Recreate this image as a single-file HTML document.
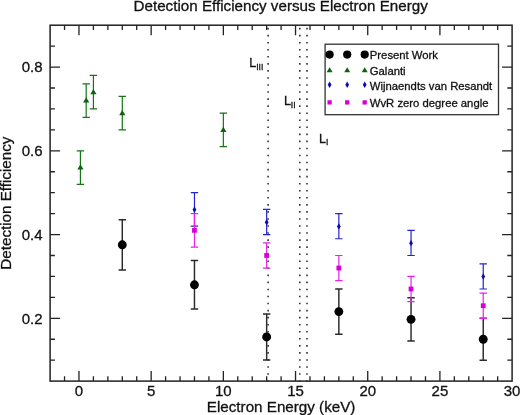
<!DOCTYPE html>
<html><head><meta charset="utf-8"><title>Detection Efficiency versus Electron Energy</title>
<style>
html,body{margin:0;padding:0;background:#fff;}
body{width:520px;height:415px;overflow:hidden;}
svg{display:block;font-family:"Liberation Sans", Arial, Helvetica, sans-serif;fill:#000;}
text{fill:#111;stroke:#111;stroke-width:0.3px;}
</style></head><body>
<svg width="520" height="415" viewBox="0 0 520 415">
<rect width="520" height="415" fill="#fff"/>
<rect x="50.1" y="25.2" width="462" height="355.9" fill="none" stroke="#222" stroke-width="1.5"/>
<path d="M64.54 381.1V376.3M64.54 25.2V30M78.97 381.1V371.1M78.97 25.2V35.2M93.41 381.1V376.3M93.41 25.2V30M107.85 381.1V376.3M107.85 25.2V30M122.29 381.1V376.3M122.29 25.2V30M136.72 381.1V376.3M136.72 25.2V30M151.16 381.1V371.1M151.16 25.2V35.2M165.6 381.1V376.3M165.6 25.2V30M180.04 381.1V376.3M180.04 25.2V30M194.47 381.1V376.3M194.47 25.2V30M208.91 381.1V376.3M208.91 25.2V30M223.35 381.1V371.1M223.35 25.2V35.2M237.79 381.1V376.3M237.79 25.2V30M252.22 381.1V376.3M252.22 25.2V30M266.66 381.1V376.3M266.66 25.2V30M281.1 381.1V376.3M281.1 25.2V30M295.54 381.1V371.1M295.54 25.2V35.2M309.98 381.1V376.3M309.98 25.2V30M324.41 381.1V376.3M324.41 25.2V30M338.85 381.1V376.3M338.85 25.2V30M353.29 381.1V376.3M353.29 25.2V30M367.73 381.1V371.1M367.73 25.2V35.2M382.16 381.1V376.3M382.16 25.2V30M396.6 381.1V376.3M396.6 25.2V30M411.04 381.1V376.3M411.04 25.2V30M425.48 381.1V376.3M425.48 25.2V30M439.91 381.1V371.1M439.91 25.2V35.2M454.35 381.1V376.3M454.35 25.2V30M468.79 381.1V376.3M468.79 25.2V30M483.23 381.1V376.3M483.23 25.2V30M497.66 381.1V376.3M497.66 25.2V30M50.1 360.16H54.9M512.1 360.16H507.3M50.1 339.23H54.9M512.1 339.23H507.3M50.1 318.29H60.1M512.1 318.29H502.1M50.1 297.36H54.9M512.1 297.36H507.3M50.1 276.42H54.9M512.1 276.42H507.3M50.1 255.49H54.9M512.1 255.49H507.3M50.1 234.55H60.1M512.1 234.55H502.1M50.1 213.62H54.9M512.1 213.62H507.3M50.1 192.68H54.9M512.1 192.68H507.3M50.1 171.75H54.9M512.1 171.75H507.3M50.1 150.81H60.1M512.1 150.81H502.1M50.1 129.88H54.9M512.1 129.88H507.3M50.1 108.94H54.9M512.1 108.94H507.3M50.1 88.01H54.9M512.1 88.01H507.3M50.1 67.07H60.1M512.1 67.07H502.1M50.1 46.14H54.9M512.1 46.14H507.3" stroke="#222" stroke-width="1.3" fill="none"/>
<path d="M267.3 380.3h1.6v1.6h-1.6zM267.3 373.25h1.6v1.6h-1.6zM267.3 366.2h1.6v1.6h-1.6zM267.3 359.15h1.6v1.6h-1.6zM267.3 352.1h1.6v1.6h-1.6zM267.3 345.05h1.6v1.6h-1.6zM267.3 338h1.6v1.6h-1.6zM267.3 330.95h1.6v1.6h-1.6zM267.3 323.9h1.6v1.6h-1.6zM267.3 316.85h1.6v1.6h-1.6zM267.3 309.8h1.6v1.6h-1.6zM267.3 302.75h1.6v1.6h-1.6zM267.3 295.7h1.6v1.6h-1.6zM267.3 288.65h1.6v1.6h-1.6zM267.3 281.6h1.6v1.6h-1.6zM267.3 274.55h1.6v1.6h-1.6zM267.3 267.5h1.6v1.6h-1.6zM267.3 260.45h1.6v1.6h-1.6zM267.3 253.4h1.6v1.6h-1.6zM267.3 246.35h1.6v1.6h-1.6zM267.3 239.3h1.6v1.6h-1.6zM267.3 232.25h1.6v1.6h-1.6zM267.3 225.2h1.6v1.6h-1.6zM267.3 218.15h1.6v1.6h-1.6zM267.3 211.1h1.6v1.6h-1.6zM267.3 204.05h1.6v1.6h-1.6zM267.3 197h1.6v1.6h-1.6zM267.3 189.95h1.6v1.6h-1.6zM267.3 182.9h1.6v1.6h-1.6zM267.3 175.85h1.6v1.6h-1.6zM267.3 168.8h1.6v1.6h-1.6zM267.3 161.75h1.6v1.6h-1.6zM267.3 154.7h1.6v1.6h-1.6zM267.3 147.65h1.6v1.6h-1.6zM267.3 140.6h1.6v1.6h-1.6zM267.3 133.55h1.6v1.6h-1.6zM267.3 126.5h1.6v1.6h-1.6zM267.3 119.45h1.6v1.6h-1.6zM267.3 112.4h1.6v1.6h-1.6zM267.3 105.35h1.6v1.6h-1.6zM267.3 98.3h1.6v1.6h-1.6zM267.3 91.25h1.6v1.6h-1.6zM267.3 84.2h1.6v1.6h-1.6zM267.3 77.15h1.6v1.6h-1.6zM267.3 70.1h1.6v1.6h-1.6zM267.3 63.05h1.6v1.6h-1.6zM267.3 56h1.6v1.6h-1.6zM267.3 48.95h1.6v1.6h-1.6zM267.3 41.9h1.6v1.6h-1.6zM267.3 34.85h1.6v1.6h-1.6zM267.3 27.8h1.6v1.6h-1.6zM299 380.3h1.6v1.6h-1.6zM299 373.25h1.6v1.6h-1.6zM299 366.2h1.6v1.6h-1.6zM299 359.15h1.6v1.6h-1.6zM299 352.1h1.6v1.6h-1.6zM299 345.05h1.6v1.6h-1.6zM299 338h1.6v1.6h-1.6zM299 330.95h1.6v1.6h-1.6zM299 323.9h1.6v1.6h-1.6zM299 316.85h1.6v1.6h-1.6zM299 309.8h1.6v1.6h-1.6zM299 302.75h1.6v1.6h-1.6zM299 295.7h1.6v1.6h-1.6zM299 288.65h1.6v1.6h-1.6zM299 281.6h1.6v1.6h-1.6zM299 274.55h1.6v1.6h-1.6zM299 267.5h1.6v1.6h-1.6zM299 260.45h1.6v1.6h-1.6zM299 253.4h1.6v1.6h-1.6zM299 246.35h1.6v1.6h-1.6zM299 239.3h1.6v1.6h-1.6zM299 232.25h1.6v1.6h-1.6zM299 225.2h1.6v1.6h-1.6zM299 218.15h1.6v1.6h-1.6zM299 211.1h1.6v1.6h-1.6zM299 204.05h1.6v1.6h-1.6zM299 197h1.6v1.6h-1.6zM299 189.95h1.6v1.6h-1.6zM299 182.9h1.6v1.6h-1.6zM299 175.85h1.6v1.6h-1.6zM299 168.8h1.6v1.6h-1.6zM299 161.75h1.6v1.6h-1.6zM299 154.7h1.6v1.6h-1.6zM299 147.65h1.6v1.6h-1.6zM299 140.6h1.6v1.6h-1.6zM299 133.55h1.6v1.6h-1.6zM299 126.5h1.6v1.6h-1.6zM299 119.45h1.6v1.6h-1.6zM299 112.4h1.6v1.6h-1.6zM299 105.35h1.6v1.6h-1.6zM299 98.3h1.6v1.6h-1.6zM299 91.25h1.6v1.6h-1.6zM299 84.2h1.6v1.6h-1.6zM299 77.15h1.6v1.6h-1.6zM299 70.1h1.6v1.6h-1.6zM299 63.05h1.6v1.6h-1.6zM299 56h1.6v1.6h-1.6zM299 48.95h1.6v1.6h-1.6zM299 41.9h1.6v1.6h-1.6zM299 34.85h1.6v1.6h-1.6zM299 27.8h1.6v1.6h-1.6zM306.2 380.3h1.6v1.6h-1.6zM306.2 373.25h1.6v1.6h-1.6zM306.2 366.2h1.6v1.6h-1.6zM306.2 359.15h1.6v1.6h-1.6zM306.2 352.1h1.6v1.6h-1.6zM306.2 345.05h1.6v1.6h-1.6zM306.2 338h1.6v1.6h-1.6zM306.2 330.95h1.6v1.6h-1.6zM306.2 323.9h1.6v1.6h-1.6zM306.2 316.85h1.6v1.6h-1.6zM306.2 309.8h1.6v1.6h-1.6zM306.2 302.75h1.6v1.6h-1.6zM306.2 295.7h1.6v1.6h-1.6zM306.2 288.65h1.6v1.6h-1.6zM306.2 281.6h1.6v1.6h-1.6zM306.2 274.55h1.6v1.6h-1.6zM306.2 267.5h1.6v1.6h-1.6zM306.2 260.45h1.6v1.6h-1.6zM306.2 253.4h1.6v1.6h-1.6zM306.2 246.35h1.6v1.6h-1.6zM306.2 239.3h1.6v1.6h-1.6zM306.2 232.25h1.6v1.6h-1.6zM306.2 225.2h1.6v1.6h-1.6zM306.2 218.15h1.6v1.6h-1.6zM306.2 211.1h1.6v1.6h-1.6zM306.2 204.05h1.6v1.6h-1.6zM306.2 197h1.6v1.6h-1.6zM306.2 189.95h1.6v1.6h-1.6zM306.2 182.9h1.6v1.6h-1.6zM306.2 175.85h1.6v1.6h-1.6zM306.2 168.8h1.6v1.6h-1.6zM306.2 161.75h1.6v1.6h-1.6zM306.2 154.7h1.6v1.6h-1.6zM306.2 147.65h1.6v1.6h-1.6zM306.2 140.6h1.6v1.6h-1.6zM306.2 133.55h1.6v1.6h-1.6zM306.2 126.5h1.6v1.6h-1.6zM306.2 119.45h1.6v1.6h-1.6zM306.2 112.4h1.6v1.6h-1.6zM306.2 105.35h1.6v1.6h-1.6zM306.2 98.3h1.6v1.6h-1.6zM306.2 91.25h1.6v1.6h-1.6zM306.2 84.2h1.6v1.6h-1.6zM306.2 77.15h1.6v1.6h-1.6zM306.2 70.1h1.6v1.6h-1.6zM306.2 63.05h1.6v1.6h-1.6zM306.2 56h1.6v1.6h-1.6zM306.2 48.95h1.6v1.6h-1.6zM306.2 41.9h1.6v1.6h-1.6zM306.2 34.85h1.6v1.6h-1.6zM306.2 27.8h1.6v1.6h-1.6z" fill="#333"/>
<path d="M122.29 219.69V269.93M118.59 219.69H125.99M118.59 269.93H125.99" stroke="#2a2a2a" stroke-width="1.45" fill="none"/>
<path d="M194.47 260.51V309.08M190.78 260.51H198.17M190.78 309.08H198.17" stroke="#2a2a2a" stroke-width="1.45" fill="none"/>
<path d="M266.66 313.9V359.96M262.96 313.9H270.36M262.96 359.96H270.36" stroke="#2a2a2a" stroke-width="1.45" fill="none"/>
<path d="M338.85 288.98V334.2M335.15 288.98H342.55M335.15 334.2H342.55" stroke="#2a2a2a" stroke-width="1.45" fill="none"/>
<path d="M411.04 297.78V340.9M407.34 297.78H414.74M407.34 340.9H414.74" stroke="#2a2a2a" stroke-width="1.45" fill="none"/>
<path d="M483.23 318.29V360.16M479.53 318.29H486.93M479.53 360.16H486.93" stroke="#2a2a2a" stroke-width="1.45" fill="none"/>
<circle cx="122.29" cy="244.81" r="4.45" fill="#000"/>
<circle cx="194.47" cy="284.8" r="4.45" fill="#000"/>
<circle cx="266.66" cy="336.93" r="4.45" fill="#000"/>
<circle cx="338.85" cy="311.59" r="4.45" fill="#000"/>
<circle cx="411.04" cy="319.34" r="4.45" fill="#000"/>
<circle cx="483.23" cy="339.23" r="4.45" fill="#000"/>
<path d="M80.42 150.81V184.31M76.72 150.81H84.12M76.72 184.31H84.12" stroke="#157515" stroke-width="1.2" fill="none"/>
<path d="M80.42 164.36L83.52 169.56H77.32Z" fill="#0b640b"/>
<path d="M86.19 83.82V117.32M82.49 83.82H89.89M82.49 117.32H89.89" stroke="#157515" stroke-width="1.2" fill="none"/>
<path d="M86.19 97.37L89.29 102.57H83.09Z" fill="#0b640b"/>
<path d="M93.41 75.44V108.94M89.71 75.44H97.11M89.71 108.94H97.11" stroke="#157515" stroke-width="1.2" fill="none"/>
<path d="M93.41 88.99L96.51 94.19H90.31Z" fill="#0b640b"/>
<path d="M122.29 96.38V129.88M118.59 96.38H125.99M118.59 129.88H125.99" stroke="#157515" stroke-width="1.2" fill="none"/>
<path d="M122.29 109.93L125.39 115.13H119.19Z" fill="#0b640b"/>
<path d="M223.35 113.13V146.62M219.65 113.13H227.05M219.65 146.62H227.05" stroke="#157515" stroke-width="1.2" fill="none"/>
<path d="M223.35 126.68L226.45 131.88H220.25Z" fill="#0b640b"/>
<path d="M194.47 192.68V226.18M190.78 192.68H198.17M190.78 226.18H198.17" stroke="#2424d0" stroke-width="1.2" fill="none"/>
<path d="M194.47 206.43L196.38 209.63L194.47 212.83L192.57 209.63Z" fill="#0c0cb4"/>
<path d="M266.66 209.43V234.55M262.96 209.43H270.36M262.96 234.55H270.36" stroke="#2424d0" stroke-width="1.2" fill="none"/>
<path d="M266.66 218.99L268.56 222.19L266.66 225.39L264.76 222.19Z" fill="#0c0cb4"/>
<path d="M338.85 213.62V238.74M335.15 213.62H342.55M335.15 238.74H342.55" stroke="#2424d0" stroke-width="1.2" fill="none"/>
<path d="M338.85 223.18L340.75 226.38L338.85 229.58L336.95 226.38Z" fill="#0c0cb4"/>
<path d="M411.04 230.37V255.49M407.34 230.37H414.74M407.34 255.49H414.74" stroke="#2424d0" stroke-width="1.2" fill="none"/>
<path d="M411.04 239.93L412.94 243.13L411.04 246.33L409.14 243.13Z" fill="#0c0cb4"/>
<path d="M483.23 263.86V288.98M479.53 263.86H486.93M479.53 288.98H486.93" stroke="#2424d0" stroke-width="1.2" fill="none"/>
<path d="M483.23 273.42L485.12 276.62L483.23 279.82L481.33 276.62Z" fill="#0c0cb4"/>
<path d="M194.47 213.62V247.11M190.78 213.62H198.17M190.78 247.11H198.17" stroke="#e822e8" stroke-width="1.2" fill="none"/>
<rect x="192.07" y="227.97" width="4.8" height="4.8" fill="#d600d6"/>
<path d="M266.66 242.93V268.05M262.96 242.93H270.36M262.96 268.05H270.36" stroke="#e822e8" stroke-width="1.2" fill="none"/>
<rect x="264.26" y="253.09" width="4.8" height="4.8" fill="#d600d6"/>
<path d="M338.85 255.49V280.61M335.15 255.49H342.55M335.15 280.61H342.55" stroke="#e822e8" stroke-width="1.2" fill="none"/>
<rect x="336.45" y="265.65" width="4.8" height="4.8" fill="#d600d6"/>
<path d="M411.04 276.42V301.55M407.34 276.42H414.74M407.34 301.55H414.74" stroke="#e822e8" stroke-width="1.2" fill="none"/>
<rect x="408.64" y="286.58" width="4.8" height="4.8" fill="#d600d6"/>
<path d="M483.23 293.17V318.29M479.53 293.17H486.93M479.53 318.29H486.93" stroke="#e822e8" stroke-width="1.2" fill="none"/>
<rect x="480.83" y="303.33" width="4.8" height="4.8" fill="#d600d6"/>
<rect x="325.1" y="44.2" width="173.4" height="70.5" fill="#fff" stroke="#333" stroke-width="1.3"/>
<circle cx="329.6" cy="54.6" r="4.1" fill="#000"/>
<circle cx="347.2" cy="54.6" r="4.1" fill="#000"/>
<circle cx="364.7" cy="54.6" r="4.1" fill="#000"/>
<text x="369.8" y="59.2" font-size="11.3">Present Work</text>
<path d="M329.6 67.2L332.6 72.2H326.6Z" fill="#0b640b"/>
<path d="M347.2 67.2L350.2 72.2H344.2Z" fill="#0b640b"/>
<path d="M364.7 67.2L367.7 72.2H361.7Z" fill="#0b640b"/>
<text x="369.8" y="75.0" font-size="11.3">Galanti</text>
<path d="M329.6 81.5L331.5 84.8L329.6 88.1L327.7 84.8Z" fill="#0c0cb4"/>
<path d="M347.2 81.5L349.1 84.8L347.2 88.1L345.3 84.8Z" fill="#0c0cb4"/>
<path d="M364.7 81.5L366.6 84.8L364.7 88.1L362.8 84.8Z" fill="#0c0cb4"/>
<text x="369.8" y="90.2" font-size="11.3">Wijnaendts van Resandt</text>
<rect x="327.45" y="100.25" width="4.3" height="4.3" fill="#d600d6"/>
<rect x="345.05" y="100.25" width="4.3" height="4.3" fill="#d600d6"/>
<rect x="362.55" y="100.25" width="4.3" height="4.3" fill="#d600d6"/>
<text x="369.8" y="106.6" font-size="11.3">WvR zero degree angle</text>
<text x="249.2" y="67.3" font-size="12.5">L<tspan font-size="8.6" dy="2.8">III</tspan></text>
<text x="283.9" y="104.9" font-size="12.5">L<tspan font-size="8.6" dy="2.8">II</tspan></text>
<text x="319.0" y="142.5" font-size="12.5">L<tspan font-size="8.6" dy="2.8">I</tspan></text>
<text x="78.97" y="396.2" font-size="15" text-anchor="middle">0</text>
<text x="151.16" y="396.2" font-size="15" text-anchor="middle">5</text>
<text x="223.35" y="396.2" font-size="15" text-anchor="middle">10</text>
<text x="295.54" y="396.2" font-size="15" text-anchor="middle">15</text>
<text x="367.73" y="396.2" font-size="15" text-anchor="middle">20</text>
<text x="439.91" y="396.2" font-size="15" text-anchor="middle">25</text>
<text x="512.1" y="396.2" font-size="15" text-anchor="middle">30</text>
<text x="42.5" y="323.69" font-size="15" text-anchor="end">0.2</text>
<text x="42.5" y="239.95" font-size="15" text-anchor="end">0.4</text>
<text x="42.5" y="156.21" font-size="15" text-anchor="end">0.6</text>
<text x="42.5" y="72.47" font-size="15" text-anchor="end">0.8</text>
<text x="280.7" y="11.1" font-size="15.2" text-anchor="middle">Detection Efficiency versus Electron Energy</text>
<text x="281.1" y="411.8" font-size="15.2" text-anchor="middle">Electron Energy (keV)</text>
<text transform="translate(10.9 203.15) rotate(-90)" x="0" y="0" font-size="15.2" text-anchor="middle">Detection Efficiency</text>
</svg>
</body></html>
